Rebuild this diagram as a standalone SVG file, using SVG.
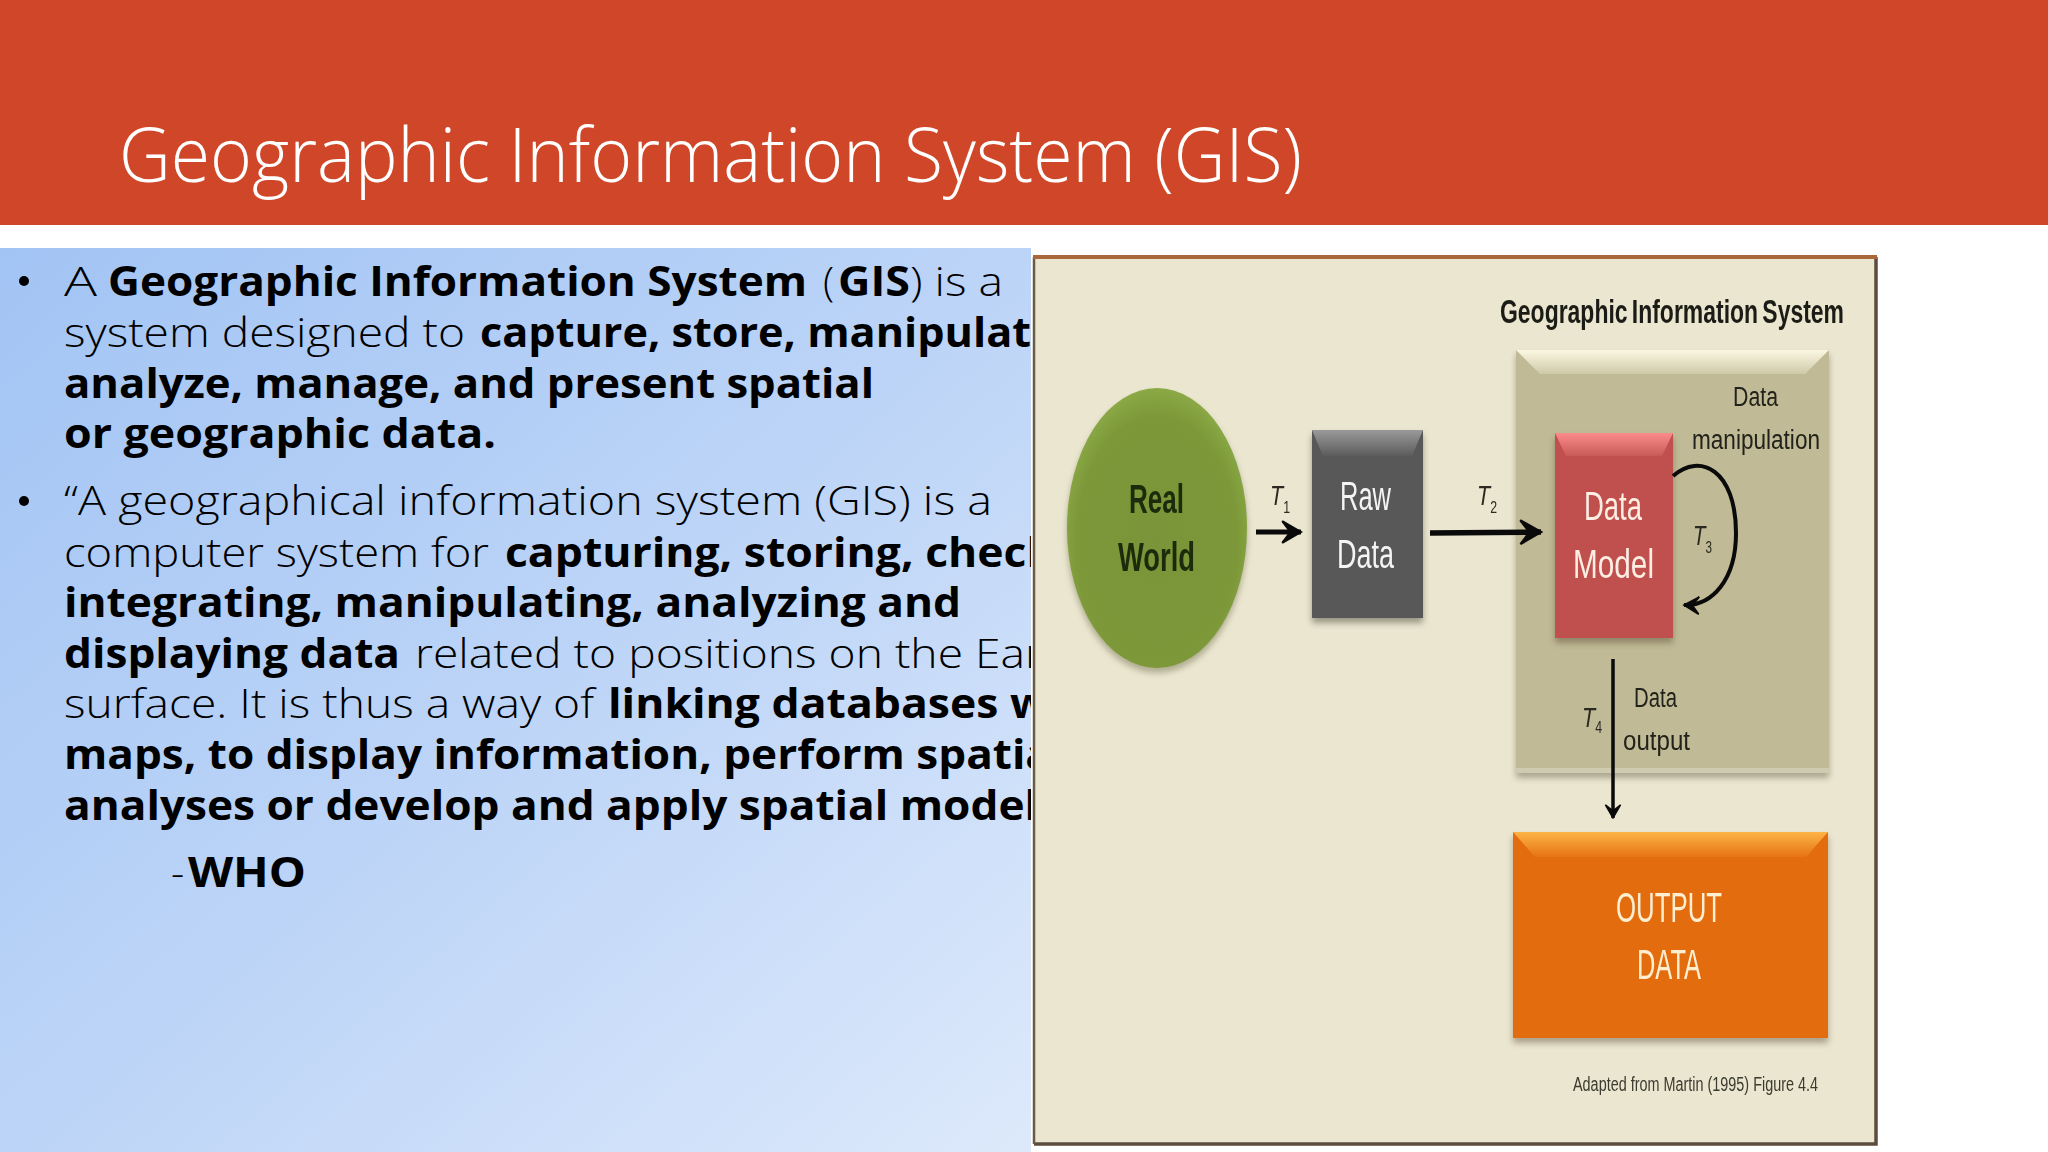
<svg xmlns="http://www.w3.org/2000/svg" width="2048" height="1152" viewBox="0 0 2048 1152">
<style>
.b{font-family:"Open Sans","Noto Sans",sans-serif;font-size:41px;fill:#000;font-weight:300}
.s{font-weight:700}
.i{font-family:"Liberation Sans",Arial,sans-serif}
.lab{font-size:27px;fill:#23231a}
.big{font-size:40px}
.conn{fill:none;stroke:#0a0a0a;stroke-linecap:butt}
.ti{font-style:italic;font-size:28px;fill:#2a2a20}
.sub{font-size:16px;font-style:normal}
</style>
<defs>
<linearGradient id="panel" x1="0" y1="0" x2="1" y2="1"><stop offset="0" stop-color="#a2c4f4"/><stop offset=".5" stop-color="#bcd4f7"/><stop offset="1" stop-color="#dde9fb"/></linearGradient>
<linearGradient id="tanTop" x1="0" y1="0" x2="0" y2="1"><stop offset="0" stop-color="#fbf8e2"/><stop offset="1" stop-color="#cfc9a8"/></linearGradient>
<linearGradient id="grayTop" x1="0" y1="0" x2="0" y2="1"><stop offset="0" stop-color="#9a9a9a"/><stop offset="1" stop-color="#5c5c5c"/></linearGradient>
<linearGradient id="redTop" x1="0" y1="0" x2="0" y2="1"><stop offset="0" stop-color="#fb8c8c"/><stop offset="1" stop-color="#c85a56"/></linearGradient>
<linearGradient id="orgTop" x1="0" y1="0" x2="0" y2="1"><stop offset="0" stop-color="#fcb445"/><stop offset="1" stop-color="#e67414"/></linearGradient>
<radialGradient id="green" cx=".5" cy=".55" r=".56"><stop offset="0" stop-color="#7a9539"/><stop offset=".8" stop-color="#7c9839"/><stop offset="1" stop-color="#8dab47"/></radialGradient>
<clipPath id="textClip"><rect x="0" y="225" width="1031" height="927"/></clipPath>
<filter id="sh" x="-10%" y="-10%" width="120%" height="120%"><feGaussianBlur stdDeviation="3"/></filter>
<filter id="soft" x="-5%" y="-5%" width="110%" height="110%"><feGaussianBlur stdDeviation=".6"/></filter>
<marker id="ah" viewBox="0 0 12 12" refX="11" refY="6" markerWidth="5" markerHeight="5" orient="auto"><path d="M2 .8 L11 6 L2 11.2 L6 6 Z" fill="#0a0a0a" stroke="#0a0a0a" stroke-width="1"/></marker>
</defs>

<rect width="2048" height="1152" fill="#fff"/>
<rect id="header" width="2048" height="225" fill="#d04628"/>
<text x="119" y="182" font-family="'Open Sans','Noto Sans',sans-serif" font-weight="300" font-size="76" fill="#fff" textLength="1183" lengthAdjust="spacingAndGlyphs">Geographic Information System (GIS)</text>

<rect id="panel-bg" x="0" y="248" width="1031" height="904" fill="url(#panel)"/>

<g id="body-text" clip-path="url(#textClip)">
<circle cx="24" cy="281" r="5" fill="#000"/>
<text class="b" x="64" y="296" textLength="33" lengthAdjust="spacingAndGlyphs">A</text>
<text class="b s" x="108" y="296" textLength="699" lengthAdjust="spacingAndGlyphs">Geographic Information System</text>
<text class="b" x="823" y="296">(</text>
<text class="b s" x="838" y="296" textLength="72" lengthAdjust="spacingAndGlyphs">GIS</text>
<text class="b" x="910" y="296" textLength="93" lengthAdjust="spacingAndGlyphs">) is a</text>

<text class="b" x="64" y="347" textLength="401" lengthAdjust="spacingAndGlyphs">system designed to</text>
<text class="b s" x="480" y="347" textLength="551" lengthAdjust="spacingAndGlyphs">capture, store, manipulat</text>
<text class="b s" x="64" y="398" textLength="810" lengthAdjust="spacingAndGlyphs">analyze, manage, and present spatial</text>
<text class="b s" x="64" y="448" textLength="432" lengthAdjust="spacingAndGlyphs">or geographic data.</text>

<circle cx="24" cy="501" r="5" fill="#000"/>
<text class="b" x="64" y="515" textLength="928" lengthAdjust="spacingAndGlyphs">“A geographical information system (GIS) is a</text>
<text class="b" x="64" y="567" textLength="425" lengthAdjust="spacingAndGlyphs">computer system for</text>
<text class="b s" x="505" y="567" textLength="549" lengthAdjust="spacingAndGlyphs">capturing, storing, check</text>
<text class="b s" x="64" y="617" textLength="897" lengthAdjust="spacingAndGlyphs">integrating, manipulating, analyzing and</text>
<text class="b s" x="64" y="668" textLength="336" lengthAdjust="spacingAndGlyphs">displaying data</text>
<text class="b" x="415" y="668" textLength="628" lengthAdjust="spacingAndGlyphs">related to positions on the Ear</text>
<text class="b" x="64" y="718" textLength="530" lengthAdjust="spacingAndGlyphs">surface. It is thus a way of</text>
<text class="b s" x="608" y="718" textLength="440" lengthAdjust="spacingAndGlyphs">linking databases w</text>
<text class="b s" x="64" y="769" textLength="988" lengthAdjust="spacingAndGlyphs">maps, to display information, perform spatia</text>
<text class="b s" x="64" y="820" textLength="974" lengthAdjust="spacingAndGlyphs">analyses or develop and apply spatial model</text>
<text class="b" x="171" y="887">-</text>
<text class="b s" x="188" y="887" textLength="118" lengthAdjust="spacingAndGlyphs">WHO</text>
</g>

<g id="figure-frame">
<rect x="1031" y="248" width="6" height="904" fill="#fff"/>
<rect x="1034.5" y="257" width="841" height="887" fill="#ebe6d0"/>
<path d="M1034 1144 H1876 V257" fill="none" stroke="#5c4c3e" stroke-width="3.5"/>
<path d="M1034 1144 V257" fill="none" stroke="#6a5a48" stroke-width="2.5"/>
<path d="M1033 257 H1877" fill="none" stroke="#a8683a" stroke-width="4"/>
</g>

<g id="gis-title"><text class="i" x="1500" y="323" font-size="33" font-weight="700" word-spacing="-3" fill="#1c1c16" textLength="344" lengthAdjust="spacingAndGlyphs" filter="url(#soft)">Geographic Information System</text></g>

<g id="real-world">
<ellipse cx="1157" cy="533" rx="90" ry="140" fill="#55552f" opacity=".4" filter="url(#sh)"/>
<ellipse cx="1157" cy="528" rx="90" ry="140" fill="url(#green)"/>
<text class="i big" x="1129" y="513" fill="#1a2c08" textLength="55" lengthAdjust="spacingAndGlyphs" font-weight="700" filter="url(#soft)">Real</text>
<text class="i big" x="1118" y="571" fill="#1a2c08" textLength="77" lengthAdjust="spacingAndGlyphs" font-weight="700" filter="url(#soft)">World</text>
</g>

<g id="raw-data">
<rect x="1312" y="435" width="111" height="188" fill="#4a4a3a" opacity=".5" filter="url(#sh)"/>
<rect x="1312" y="430" width="111" height="188" fill="#585858"/>
<path d="M1312 430 H1423 L1412 456 H1323 Z" fill="url(#grayTop)"/>
<text class="i big" x="1340" y="510" fill="#f4f4f4" textLength="51" lengthAdjust="spacingAndGlyphs" filter="url(#soft)">Raw</text>
<text class="i big" x="1337" y="568" fill="#f4f4f4" textLength="57" lengthAdjust="spacingAndGlyphs" filter="url(#soft)">Data</text>
</g>

<g id="gis-box">
<rect x="1516" y="355" width="313" height="423" fill="#6a6850" opacity=".5" filter="url(#sh)"/>
<rect x="1516" y="350" width="313" height="423" fill="#c0ba96"/>
<path d="M1516 350 H1829 L1805 374 H1540 Z" fill="url(#tanTop)"/>
<path d="M1516 773 H1829 V768 H1516 Z" fill="#cfcab0"/>
<text class="i lab" x="1733" y="406" textLength="45" lengthAdjust="spacingAndGlyphs" filter="url(#soft)">Data</text>
<text class="i lab" x="1692" y="449" textLength="128" lengthAdjust="spacingAndGlyphs" filter="url(#soft)">manipulation</text>
<text class="i lab" x="1634" y="707" textLength="43" lengthAdjust="spacingAndGlyphs" filter="url(#soft)">Data</text>
<text class="i lab" x="1623" y="750" textLength="67" lengthAdjust="spacingAndGlyphs" filter="url(#soft)">output</text>
</g>

<g id="data-model">
<rect x="1555" y="438" width="118" height="205" fill="#6a5a40" opacity=".55" filter="url(#sh)"/>
<rect x="1555" y="433" width="118" height="205" fill="#c0504d"/>
<path d="M1555 433 H1673 L1662 456 H1566 Z" fill="url(#redTop)"/>
<text class="i big" x="1584" y="520" fill="#fdeee4" textLength="58" lengthAdjust="spacingAndGlyphs" filter="url(#soft)">Data</text>
<text class="i big" x="1573" y="578" fill="#fdeee4" textLength="81" lengthAdjust="spacingAndGlyphs" filter="url(#soft)">Model</text>
</g>

<g id="output-data">
<rect x="1513" y="837" width="315" height="206" fill="#6a5a40" opacity=".5" filter="url(#sh)"/>
<rect x="1513" y="832" width="315" height="206" fill="#e36c0f"/>
<path d="M1513 832 H1828 L1806 857 H1535 Z" fill="url(#orgTop)"/>
<text class="i" font-size="42" x="1616" y="922" fill="#ffefd0" textLength="106" lengthAdjust="spacingAndGlyphs" filter="url(#soft)">OUTPUT</text>
<text class="i" font-size="42" x="1637" y="979" fill="#ffefd0" textLength="64" lengthAdjust="spacingAndGlyphs" filter="url(#soft)">DATA</text>
</g>

<g id="connectors">
<path class="conn" d="M1256 532 H1301" stroke-width="5" marker-end="url(#ah)"/>
<path class="conn" d="M1430 533 L1541 532" stroke-width="5.5" marker-end="url(#ah)"/>
<path class="conn" d="M1673 476 C1700 452 1736 470 1736 533 C1736 580 1712 606 1684 605" stroke-width="4" marker-end="url(#ah)"/>
<path class="conn" d="M1613 659 V818" stroke-width="3.5" marker-end="url(#ah)"/>
</g>

<g id="connector-labels" filter="url(#soft)">
<text class="i ti" x="1270" y="505" textLength="20" lengthAdjust="spacingAndGlyphs">T<tspan class="sub" dy="8">1</tspan></text>
<text class="i ti" x="1477" y="505" textLength="20" lengthAdjust="spacingAndGlyphs">T<tspan class="sub" dy="8">2</tspan></text>
<text class="i ti" x="1693" y="545" textLength="19" lengthAdjust="spacingAndGlyphs">T<tspan class="sub" dy="8">3</tspan></text>
<text class="i ti" x="1582" y="727" textLength="20" lengthAdjust="spacingAndGlyphs">T<tspan class="sub" dy="6">4</tspan></text>
</g>

<g id="credit"><text class="i" x="1573" y="1091" font-size="20" fill="#3b3b30" textLength="245" lengthAdjust="spacingAndGlyphs" filter="url(#soft)">Adapted from Martin (1995) Figure 4.4</text></g>
</svg>
